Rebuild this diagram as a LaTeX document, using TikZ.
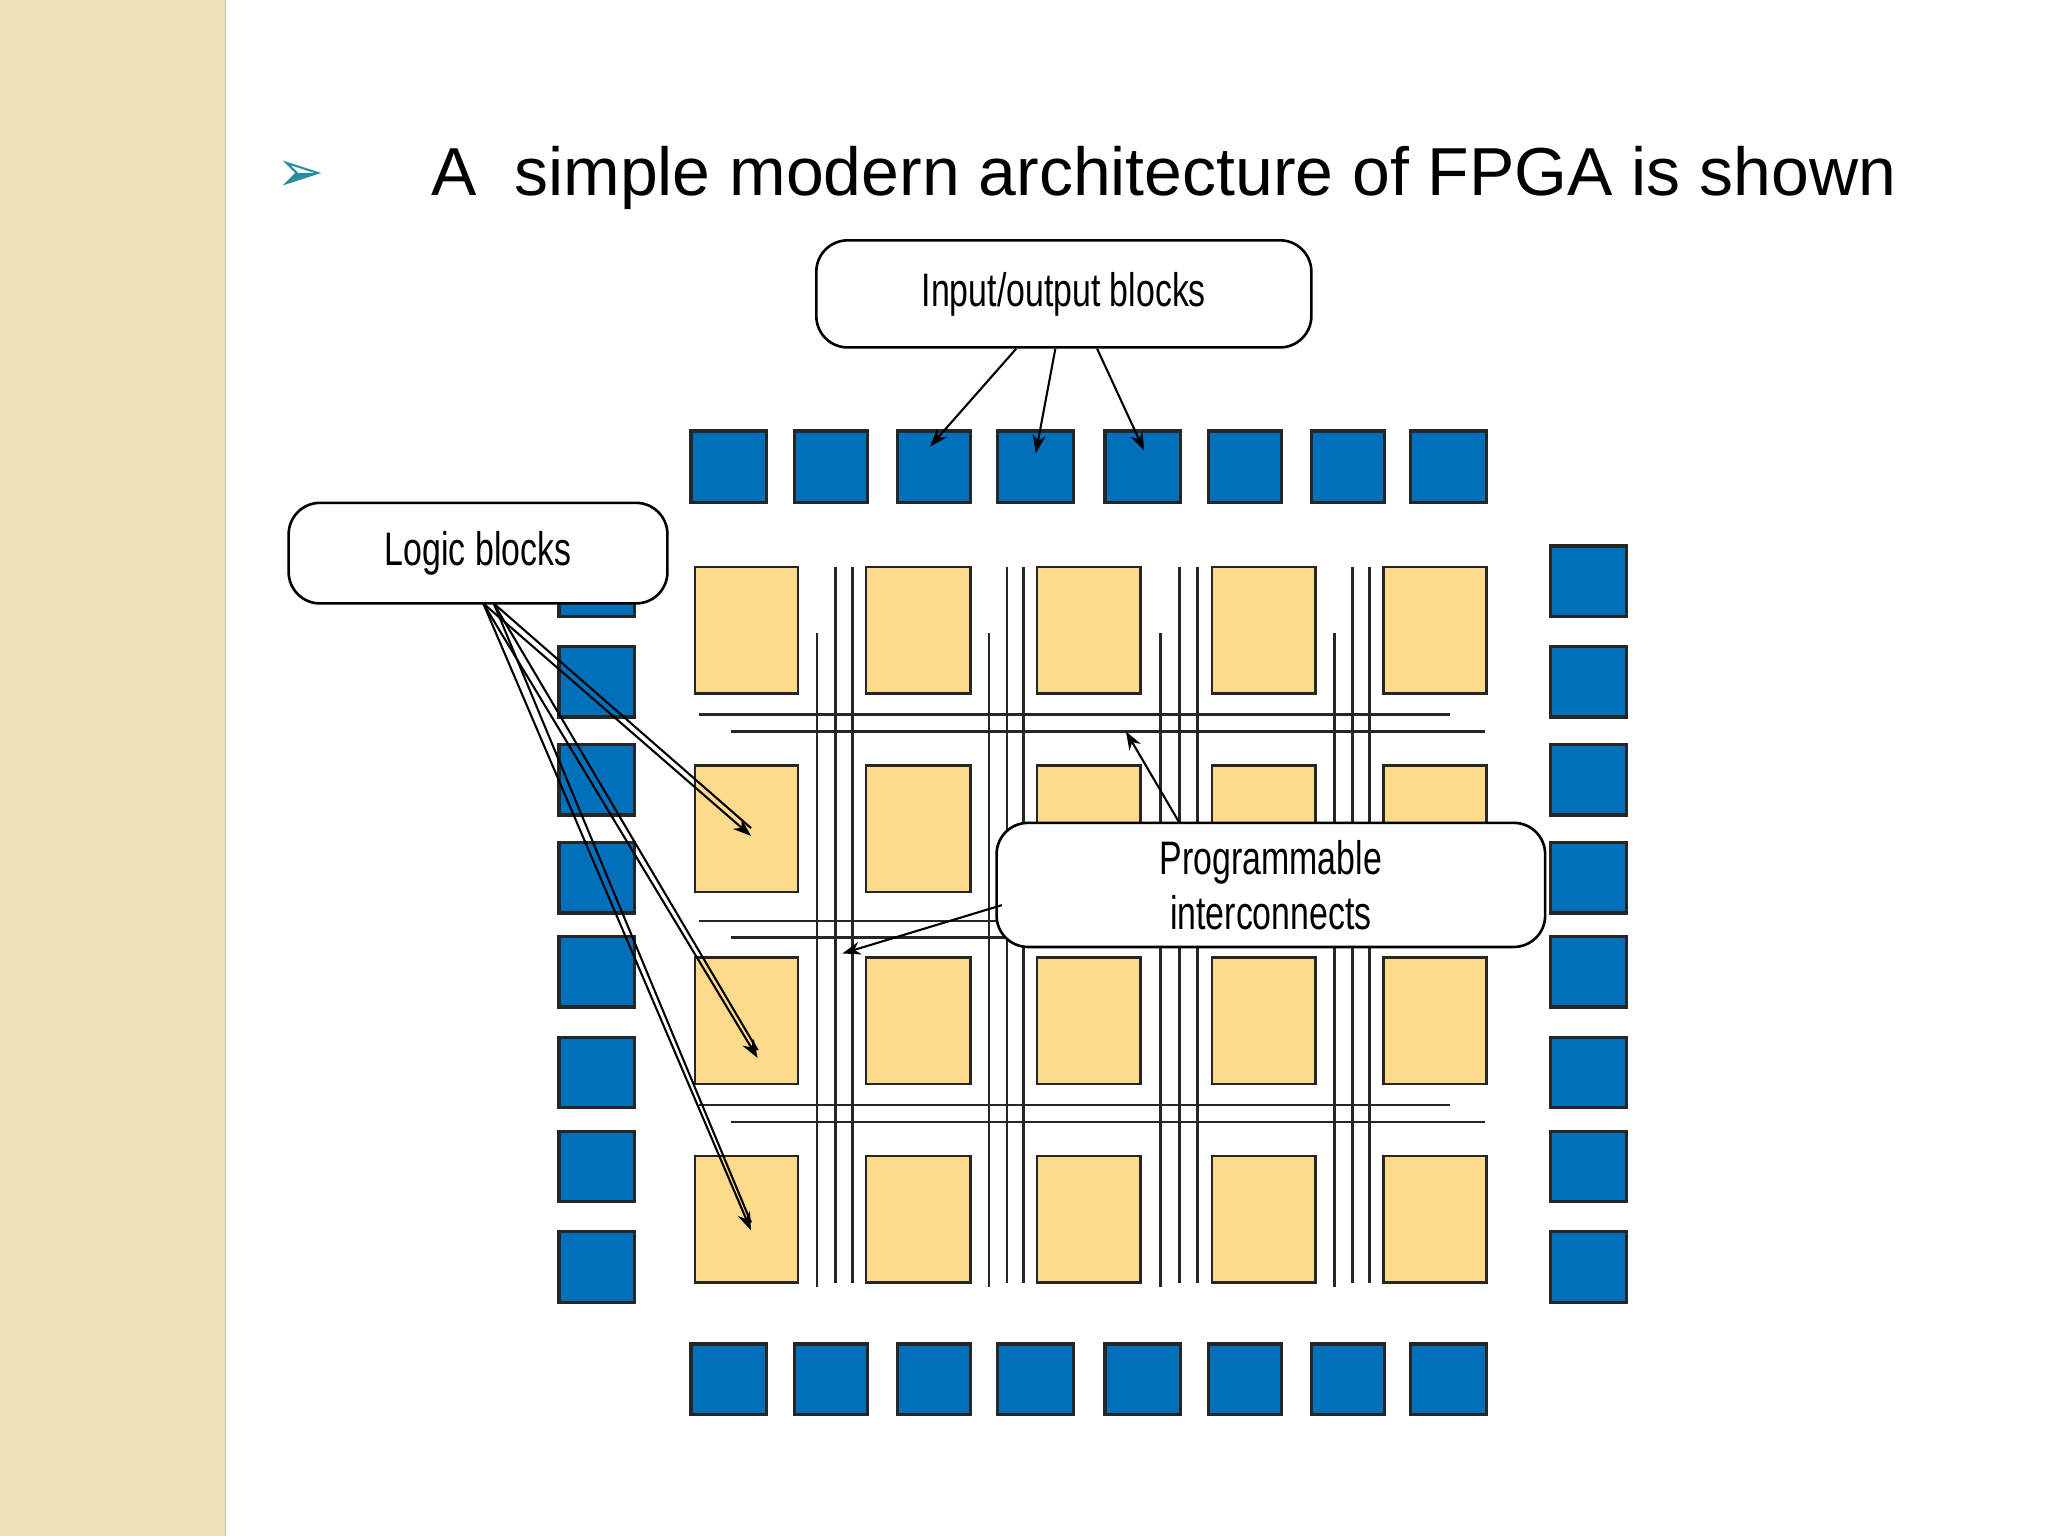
\documentclass[tikz,border=0pt]{standalone}
\usepackage{fontspec}
\setmainfont{Liberation Sans}
\newfontfamily\cond{Liberation Sans}[FakeStretch=0.72]
\newfontfamily\dv{DejaVu Sans}
\usetikzlibrary{arrows.meta,calc}
\definecolor{beige}{RGB}{238,224,184}
\definecolor{iob}{RGB}{0,112,186}
\definecolor{lgb}{RGB}{253,218,140}
\definecolor{teal}{RGB}{40,140,160}
\begin{document}
\begin{tikzpicture}[x=0.5pt,y=-0.5pt,
  io/.style={draw=black!85,line width=1.2pt,fill=iob},
  lb/.style={draw=black!85,line width=1pt,fill=lgb},
  wire/.style={line width=1pt,black!85},
  call/.style={draw,line width=1pt,rounded corners=12pt,fill=white,font=\cond\fontsize{18}{21}\selectfont,align=center,inner sep=0pt},
  arr/.style={line width=0.8pt,-{Stealth[length=7pt,width=5pt]}}]
\useasboundingbox (0,0) rectangle (1568,1176);
\fill[beige] (0,0) rectangle (173,1176);
\draw[black!25] (173,0) -- (173,1176);
\node[text=teal,font=\dv\fontsize{22}{22}\selectfont] (bul) at (230,135) {➢};
\node[anchor=base west,font=\fontsize{26}{30}\selectfont,inner sep=0] (title) at (330,150) {A\ \ simple modern architecture of FPGA is shown};
% wires
\foreach \a/\b in {611/663,743/794,873/928,1007/1059}{
  \pgfmathsetmacro{\g}{(\b-\a)}
  \draw[wire] ({\a+0.28*\g},485) -- ({\a+0.28*\g},985);
  \draw[wire] ({\a+0.55*\g},434) -- ({\a+0.55*\g},982);
  \draw[wire] ({\a+0.8*\g},434) -- ({\a+0.8*\g},982);
}
\foreach \y in {547,705,846}{
  \draw[wire] (535,\y) -- (1110,\y);
  \draw[wire] (560,\y+13) -- (1137,\y+13);
}
% logic blocks
\foreach \xa/\xb [count=\i] in {532/611,663/743,794/873,928/1007,1059/1138}
  \foreach \ya/\yb [count=\j] in {434/531,586/683,733/830,885/982}
    \draw[lb] (\xa,\ya) rectangle (\xb,\yb) node[midway,inner sep=0] (L\i\j) {};
% IO blocks
\foreach \xa/\xb [count=\i] in {529/587,608/664,687/743,764/822,846/904,925/981,1004/1060,1080/1138}{
  \draw[io] (\xa,330) rectangle (\xb,385) node[midway,inner sep=0] (T\i) {};
  \draw[io] (\xa,1029) rectangle (\xb,1083) node[midway,inner sep=0] (B\i) {};
}
\foreach \ya/\yb [count=\i] in {418/472,495/549,570/624,645/699,717/771,794/848,866/920,943/997}{
  \draw[io] (428,\ya) rectangle (486,\yb) node[midway,inner sep=0] (Lf\i) {};
  \draw[io] (1187,\ya) rectangle (1245,\yb) node[midway,inner sep=0] (R\i) {};
}
% callouts
\node[call,minimum width=379*0.5pt,minimum height=82*0.5pt] (iocall) at (814.5,225) {Input/output blocks};
\node[call,minimum width=290*0.5pt,minimum height=77*0.5pt] (lbcall) at (366,423.5) {Logic blocks};
\node[call,minimum width=420*0.5pt,minimum height=95*0.5pt] (pic) at (973,677.5) {Programmable\\interconnects};
\coordinate (a1) at (712,342); \coordinate (a2) at (793,347); \coordinate (a3) at (876,345);
\draw[arr] (778,267) -- (a1);
\draw[arr] (808,267) -- (a2);
\draw[arr] (840,267) -- (a3);
\coordinate (b1) at (575,640); \coordinate (b2) at (580,810); \coordinate (b3) at (575,942);
\foreach \t in {b1,b2,b3}{
  \draw[arr] (370,462) -- (\t);
  \draw[line width=0.8pt] (378,462) -- ($(\t)+(0,-6)$);
}
\coordinate (c1) at (862,560); \coordinate (c2) at (645,730);
\draw[arr] (903,630) -- (c1);
\draw[arr] (767,693) -- (c2);
\end{tikzpicture}
\end{document}
